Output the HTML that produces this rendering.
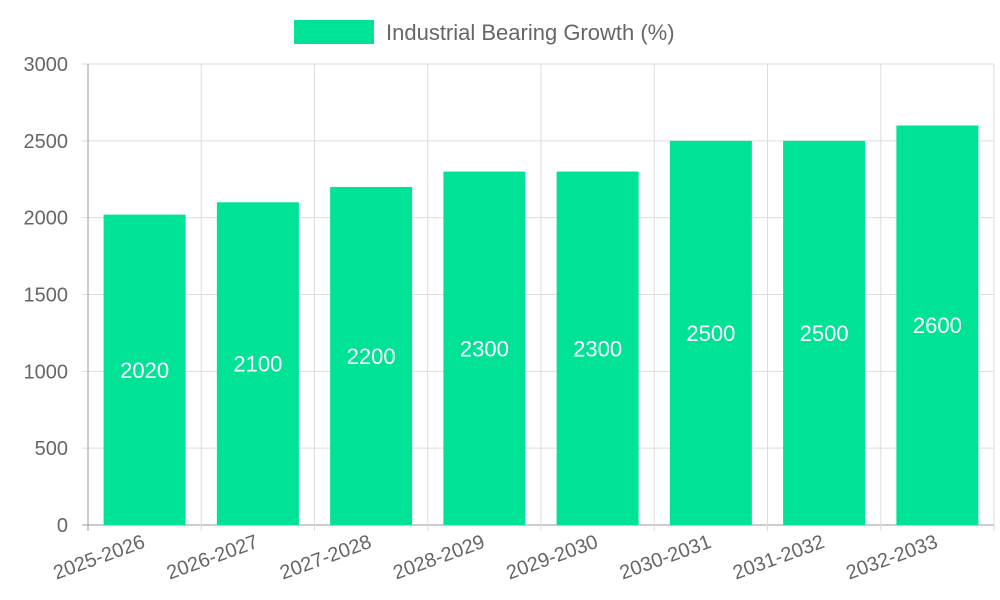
<!DOCTYPE html>
<html><head><meta charset="utf-8"><style>
html,body{margin:0;padding:0;background:#fff;}
svg{display:block;font-family:"Liberation Sans",sans-serif;}
</style></head><body>
<svg id="chart" width="1000" height="600">
<g id="legend">
<rect x="294" y="20" width="80" height="24" fill="#00e396"/>
<text x="386" y="40" font-size="22" fill="#666">Industrial Bearing Growth (%)</text>
</g>
<g id="grid"></g><g id="bars"></g><g id="axes"></g>
</svg>
<script>
const categories=["2025-2026","2026-2027","2027-2028","2028-2029","2029-2030","2030-2031","2031-2032","2032-2033"];
const values=[2020,2100,2200,2300,2300,2500,2500,2600];
const yTicks=[0,500,1000,1500,2000,2500,3000];
const NS="http://www.w3.org/2000/svg";
const L=88,R=994,T=64,B=525,yMax=3000;
const step=(R-L)/categories.length, bw=82;
const y=v=>B-(v/yMax)*(B-T);
const x=i=>L+step*i;
function mk(tag,attrs,parent,text){const e=document.createElementNS(NS,tag);for(const k in attrs)e.setAttribute(k,attrs[k]);if(text!==undefined)e.textContent=text;parent.appendChild(e);return e;}
const grid=document.getElementById('grid'),bars=document.getElementById('bars'),axes=document.getElementById('axes');
yTicks.forEach(t=>{
 const g=mk('line',{x1:L-6,x2:R,y1:y(t),y2:y(t),stroke:t===0?'#999':'#ddd','stroke-width':1},grid);
 
 
 const lb=mk('text',{x:L-20,y:y(t)+7,'text-anchor':'end','font-size':20,fill:'#666'},axes,String(t));
 
 
});
for(let i=0;i<=categories.length;i++){
 const g=mk('line',{x1:x(i),x2:x(i),y1:T,y2:B+6,stroke:i===0?'#999':'#ddd','stroke-width':1},grid);
 
 
}
categories.forEach((c,i)=>{
 const cx=x(i)+step/2;
 const r=mk('rect',{x:cx-bw/2,y:y(values[i]),width:bw,height:B-y(values[i]),fill:'#00e396'},bars);
 
 
 const v=mk('text',{x:cx,y:(y(values[i])+B)/2+8,'text-anchor':'middle','font-size':22,fill:'#fff'},bars,String(values[i]));
 
 
 const tx=x(i)+step-55, ty=B+22;
 const l=mk('text',{x:tx,y:ty,'text-anchor':'end','font-size':20,fill:'#666',transform:`rotate(-20 ${tx} ${ty})`},axes,c);
 
 
});
</script>
</body></html>
